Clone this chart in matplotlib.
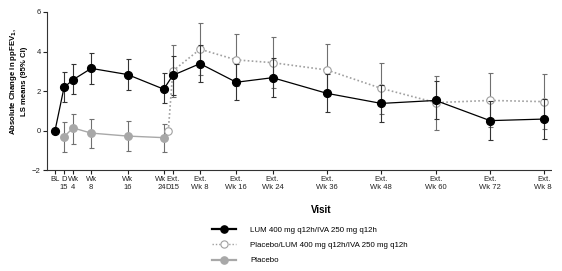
import numpy as np
import matplotlib
matplotlib.use("Agg")
import matplotlib.pyplot as plt
import matplotlib.transforms as mtransforms
from matplotlib.lines import Line2D
from matplotlib.patches import Rectangle

plt.rcParams["font.family"] = ["Liberation Sans", "DejaVu Sans"]

# ===================== DATA =====================
VISIT_WEEKS = [0, 2, 4, 8, 16, 24, 26, 32, 40, 48, 60, 72, 84, 96, 108]
VISIT_LABELS = ["BL", "D\n15", "Wk\n4", "Wk\n8", "Wk\n16", "Wk\n24",
                "Ext.\nD15", "Ext.\nWk 8", "Ext.\nWk 16", "Ext.\nWk 24",
                "Ext.\nWk 36", "Ext.\nWk 48", "Ext.\nWk 60", "Ext.\nWk 72",
                "Ext.\nWk 84"]

# LUM 400 mg q12h/IVA 250 mg q12h (all visits)
lum_mean = [0.0, 2.19, 2.58, 3.15, 2.84, 2.10, 2.80, 3.39, 2.45, 2.68, 1.89, 1.38, 1.53, 0.51, 0.59]
lum_lo = [0.0, 1.45, 1.85, 2.38, 2.08, 1.40, 1.80, 2.44, 1.53, 1.70, 0.93, 0.44, 0.60, -0.46, -0.41]
lum_hi = [0.0, 2.95, 3.37, 3.91, 3.60, 2.92, 3.80, 4.34, 3.37, 3.66, 2.85, 2.32, 2.52, 1.48, 1.60]

# Placebo (D15 .. Wk 24)
pbo_weeks = [2, 4, 8, 16, 24]
pbo_mean = [-0.30, 0.14, -0.12, -0.27, -0.35]
pbo_lo = [-1.08, -0.66, -0.88, -1.00, -1.10]
pbo_hi = [0.44, 0.86, 0.61, 0.49, 0.35]

# Placebo -> LUM/IVA (Wk 24 re-baseline .. Ext. Wk 84)
pl_weeks = [24, 26, 32, 40, 48, 60, 72, 84, 96, 108]
pl_mean = [0.0, 3.02, 4.12, 3.58, 3.44, 3.07, 2.14, 1.42, 1.53, 1.47]
pl_lo = [0.0, 1.72, 2.82, 2.28, 2.14, 1.75, 0.86, 0.05, 0.18, 0.07]
pl_hi = [0.0, 4.32, 5.42, 4.88, 4.74, 4.39, 3.42, 2.75, 2.92, 2.89]

LEGEND_LABELS = ["LUM 400 mg q12h/IVA 250 mg q12h",
                 "Placebo/LUM 400 mg q12h/IVA 250 mg q12h",
                 "Placebo"]

# ===================== STYLE =====================
W, H = 562, 271
DPI = 100
C_LUM = "#000000"
C_LUM_ERR = "#333333"
C_PBO = "#a8a8a8"
C_PBO_ERR = "#707070"
C_PL = "#a0a0a0"


def yerr(mean, lo, hi):
    m = np.asarray(mean)
    return np.vstack([m - np.asarray(lo), np.asarray(hi) - m])


fig = plt.figure(figsize=(W / DPI, H / DPI), dpi=DPI)
ax = fig.add_axes([46.7 / W, 1 - 170.3 / H, (551.7 - 46.7) / W, (170.3 - 12) / H])

# shift the re-baselined Wk 24 point slightly right, like the source
pl_x = np.array(pl_weeks, dtype=float)
pl_x[0] += 1.0

eb_kw = dict(elinewidth=0.8, capsize=1.8, capthick=0.8)

ax.errorbar(pbo_weeks, pbo_mean, yerr=yerr(pbo_mean, pbo_lo, pbo_hi),
            color=C_PBO, ecolor=C_PBO_ERR, lw=1.0, marker="o", ms=5.4,
            mfc=C_PBO, mec=C_PBO, zorder=2, **eb_kw)
ax.errorbar(pl_x, pl_mean, yerr=yerr(pl_mean, pl_lo, pl_hi),
            color=C_PL, ecolor=C_PBO_ERR, lw=1.2, ls=(0, (1, 1.4)), marker="o",
            ms=5.4, mfc="white", mec="#a0a0a0", mew=0.8, zorder=3, **eb_kw)
ax.errorbar(VISIT_WEEKS, lum_mean, yerr=yerr(lum_mean, lum_lo, lum_hi),
            color=C_LUM, ecolor=C_LUM_ERR, lw=0.9, marker="o", ms=5.6,
            mfc=C_LUM, mec=C_LUM, zorder=4, **eb_kw)

ax.set_xlim(-1.83, 109.6)
ax.set_ylim(-2, 6)
ax.set_yticks([-2, 0, 2, 4, 6])
ax.set_xticks(VISIT_WEEKS)
ax.set_xticklabels(VISIT_LABELS, fontsize=5.5, linespacing=1.15, va="top")
ax.tick_params(axis="both", labelsize=5.5, length=3.0, width=0.8, pad=1.2,
               direction="out", colors="#222222")

# Wk 24 label sits right-aligned against its tick (no room next to Ext. D15)
wk24 = ax.get_xticklabels()[5]
wk24.set_ha("right")
wk24.set_transform(wk24.get_transform() +
                   mtransforms.ScaledTranslation(1.5 / 72, 0, fig.dpi_scale_trans))

for s in ("top", "right"):
    ax.spines[s].set_visible(False)
for s in ("left", "bottom"):
    ax.spines[s].set_linewidth(0.8)
    ax.spines[s].set_color("#333333")

fig.text(18 / W, 1 - 81 / H, "Absolute Change in ppFEV$_\\mathbf{1}$,\nLS means (95% CI)",
         rotation=90, ha="center", va="center", fontsize=5.6, fontweight="bold",
         linespacing=1.4)
fig.text(321 / W, 1 - 210 / H, "Visit", ha="center", va="center",
         fontsize=7, fontweight="bold")

handles = [
    Line2D([], [], color=C_LUM, lw=1.6, marker="o", ms=5.2, mfc=C_LUM, mec=C_LUM),
    Line2D([], [], color=C_PL, lw=1.0, ls=(0, (1, 1.4)), marker="o", ms=5.2,
           mfc="white", mec="#a0a0a0", mew=0.8),
    Line2D([], [], color=C_PBO, lw=1.6, marker="o", ms=5.2, mfc=C_PBO, mec=C_PBO),
]
fig.legend(handles, LEGEND_LABELS, loc="upper left",
           bbox_to_anchor=(212 / W, 1 - 226 / H), frameon=False,
           fontsize=5.7, handlelength=3.0, handletextpad=1.8,
           labelspacing=1.0, borderpad=0, borderaxespad=0)

# the source image is cropped at the right edge
fig.add_artist(Rectangle((552 / W, 0), 1 - 552 / W, 1, transform=fig.transFigure,
                         facecolor="white", edgecolor="none", zorder=10))

fig.savefig("out.png", dpi=DPI)
